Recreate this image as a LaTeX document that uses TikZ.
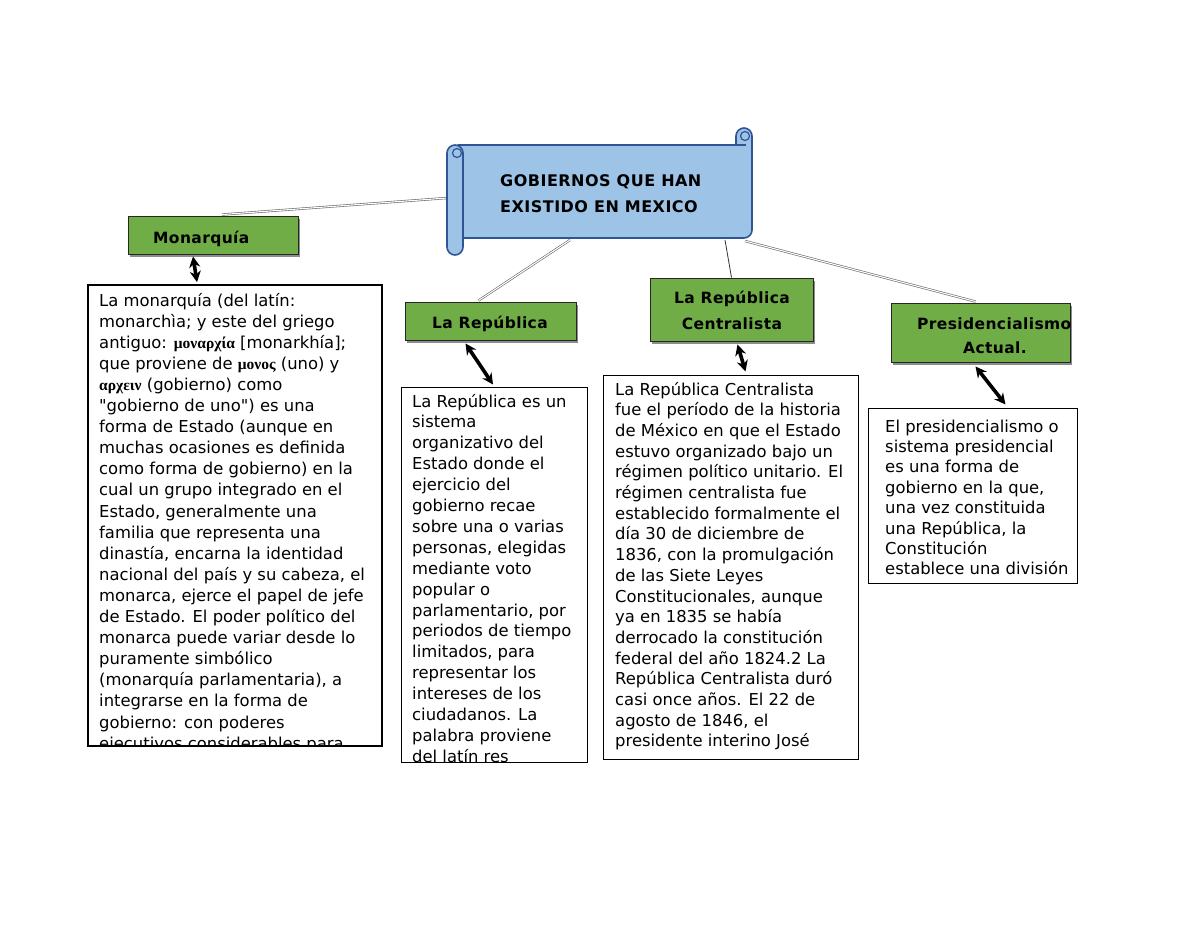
\documentclass[tikz,border=0pt]{standalone}
\usepackage{fontspec}
\setmainfont{DejaVu Sans}[Ligatures=TeXOff]
\newfontfamily\grk{Liberation Serif}
\newfontfamily\headfont{DejaVu Sans}[LetterSpace=2.5]
\newfontfamily\titlefont{DejaVu Sans}[LetterSpace=3]
\usetikzlibrary{arrows.meta,shadows,calc}
\definecolor{gfill}{RGB}{113,173,71}
\definecolor{sfill}{RGB}{157,195,230}
\definecolor{sdraw}{RGB}{47,85,151}
\newcommand{\bodyfnt}[1]{\fontsize{16.4}{#1}\selectfont}
\tikzset{
  greenbox/.style={draw=black!85, line width=0.9pt, fill=gfill, inner sep=0pt,
    drop shadow={shadow xshift=2pt, shadow yshift=-3pt, fill=black, opacity=0.45}},
  textbox/.style={draw=black, line width=1pt, fill=white, inner sep=0pt},
  headtxt/.style={font=\headfont\bfseries\fontsize{15.5}{17}\selectfont, inner sep=0pt, anchor=base west},
  bodytxt/.style={inner sep=0pt, anchor=base west},
  link/.style={draw=black!60, line width=0.6pt, double=white, double distance=1.1pt},
  plainlink/.style={draw=black!80, line width=0.8pt},
  dblarrow/.style={{Stealth[length=11pt,width=11pt]}-{Stealth[length=11pt,width=11pt]}, line width=3.6pt},
  scrollst/.style={fill=sfill, draw=sdraw, line width=1.6pt, line join=round}
}
\begin{document}
\begin{tikzpicture}[x=1pt,y=-1pt]
\useasboundingbox (0,0) rectangle (1200,927);
\fill[white] (0,0) rectangle (1200,927);

% anchor coordinates on the scroll
\coordinate (sL) at (447,198);
\coordinate (sR) at (570,240);
\coordinate (sC) at (725,240);
\coordinate (sP) at (745,241);

% green heading boxes
\node[greenbox, minimum width=170pt, minimum height=38pt] (monarquia) at (213,235) {};
\node[greenbox, minimum width=171pt, minimum height=38pt] (republica) at (490.5,321) {};
\node[greenbox, minimum width=163pt, minimum height=63pt] (central) at (731.5,309.5) {};
\node[greenbox, minimum width=179pt, minimum height=59pt] (presid) at (980.5,332.5) {};

% connectors from the scroll (under the scroll)
\draw[link] (sL) -- ($(monarquia.north)+(9,-1)$);
\draw[link] (sR) -- ($(republica.north)+(-12,-1)$);
\draw[plainlink] (sC) -- (central.north);
\draw[link] (sP) -- ($(presid.north)+(-5,-1)$);

% scroll
\filldraw[scrollst] (458,145) -- (736,145) -- (736,136) arc[start angle=180,end angle=360,radius=8]
  -- (752,230) arc[start angle=0,end angle=90,radius=8] -- (458,238) -- cycle;
\filldraw[scrollst] (447,153) -- (447,247) arc[start angle=180,end angle=0,radius=8]
  -- (463,153) arc[start angle=0,end angle=-180,radius=8] -- cycle;
\filldraw[scrollst, line width=1.2pt] (457,153) circle[radius=4.5];
\filldraw[scrollst, line width=1.2pt] (745,136) circle[radius=4.5];
\draw[sdraw, line width=1.2pt] (736,145) -- (746,145);

\node[inner sep=0pt, anchor=base west, font=\titlefont\bfseries\fontsize{16}{18}\selectfont] (title1) at (500,186) {GOBIERNOS QUE HAN};
\node[inner sep=0pt, anchor=base west, font=\titlefont\bfseries\fontsize{16}{18}\selectfont] (title2) at (500,212) {EXISTIDO EN MEXICO};

% heading texts
\node[headtxt] (tmon) at (153,243) {Monarquía};
\node[headtxt] (trep) at (432,328) {La República};
\node[headtxt, anchor=base] (tcen1) at (732,303) {La República};
\node[headtxt, anchor=base] (tcen2) at (732,329) {Centralista};
\node[headtxt] (tpre1) at (917,329) {Presidencialismo};
\node[headtxt, anchor=base] (tpre2) at (995,353) {Actual.};

% text boxes
\node[textbox, line width=1.8pt, minimum width=294pt, minimum height=461pt] (mtext) at (235,515.5) {};
\node[textbox, minimum width=186pt, minimum height=375pt] (rtext) at (494,574.5) {};
\node[textbox, minimum width=255pt, minimum height=384pt] (ctext) at (730.5,567) {};
\node[textbox, minimum width=209pt, minimum height=175pt] (ptext) at (972.5,495.5) {};

\begin{scope}
\clip ($(mtext.south west)+(1,-1)$) rectangle ($(mtext.north east)+(-1,1)$);
\node[bodytxt] (mbody) at (99,306) {\parbox[t]{280pt}{\bodyfnt{21.1}%
La monarquía (del latín:\\
monarchìa; y este del griego\\
antiguo: {\grk\bfseries\fontsize{15.5}{21.1}\selectfont μοναρχία} [monarkhía];\\
que proviene de {\grk\bfseries\fontsize{15.5}{21.1}\selectfont μονος} (uno) y\\
{\grk\bfseries\fontsize{15.5}{21.1}\selectfont αρχειν} (gobierno) como\\
"gobierno de uno") es una\\
forma de Estado (aunque en\\
muchas ocasiones es definida\\
como forma de gobierno) en la\\
cual un grupo integrado en el\\
Estado, generalmente una\\
familia que representa una\\
dinastía, encarna la identidad\\
nacional del país y su cabeza, el\\
monarca, ejerce el papel de jefe\\
de Estado. El poder político del\\
monarca puede variar desde lo\\
puramente simbólico\\
(monarquía parlamentaria), a\\
integrarse en la forma de\\
gobierno: con poderes\\
ejecutivos considerables para}};
\end{scope}

\begin{scope}
\clip ($(rtext.south west)+(1,-1)$) rectangle ($(rtext.north east)+(-1,1)$);
\node[bodytxt] (rbody) at (412,407) {\parbox[t]{175pt}{\bodyfnt{20.9}%
La República es un\\
sistema\\
organizativo del\\
Estado donde el\\
ejercicio del\\
gobierno recae\\
sobre una o varias\\
personas, elegidas\\
mediante voto\\
popular o\\
parlamentario, por\\
periodos de tiempo\\
limitados, para\\
representar los\\
intereses de los\\
ciudadanos. La\\
palabra proviene\\
del latín res}};
\end{scope}

\begin{scope}
\clip ($(ctext.south west)+(1,-1)$) rectangle ($(ctext.north east)+(-1,1)$);
\node[bodytxt] (cbody) at (615,395) {\parbox[t]{245pt}{\bodyfnt{20.7}%
La República Centralista\\
fue el período de la historia\\
de México en que el Estado\\
estuvo organizado bajo un\\
régimen político unitario. El\\
régimen centralista fue\\
establecido formalmente el\\
día 30 de diciembre de\\
1836, con la promulgación\\
de las Siete Leyes\\
Constitucionales, aunque\\
ya en 1835 se había\\
derrocado la constitución\\
federal del año 1824.2 La\\
República Centralista duró\\
casi once años. El 22 de\\
agosto de 1846, el\\
presidente interino José}};
\end{scope}

\node[bodytxt] (pbody) at (885,432) {\parbox[t]{200pt}{\bodyfnt{20.4}%
El presidencialismo o\\
sistema presidencial\\
es una forma de\\
gobierno en la que,\\
una vez constituida\\
una República, la\\
Constitución\\
establece una división}};

% double-headed arrows
\draw[dblarrow] ($(monarquia.south)+(-20,2)$) -- ($(mtext.north)+(-38,-2)$);
\draw[dblarrow] ($(republica.south)+(-25,3)$) -- ($(rtext.north)+(-1,-2)$);
\draw[dblarrow] ($(central.south)+(6,3)$) -- ($(ctext.north)+(15,-3)$);
\draw[dblarrow] ($(presid.south)+(-5,4)$) -- ($(ptext.north)+(33,-3)$);
\end{tikzpicture}
\end{document}
